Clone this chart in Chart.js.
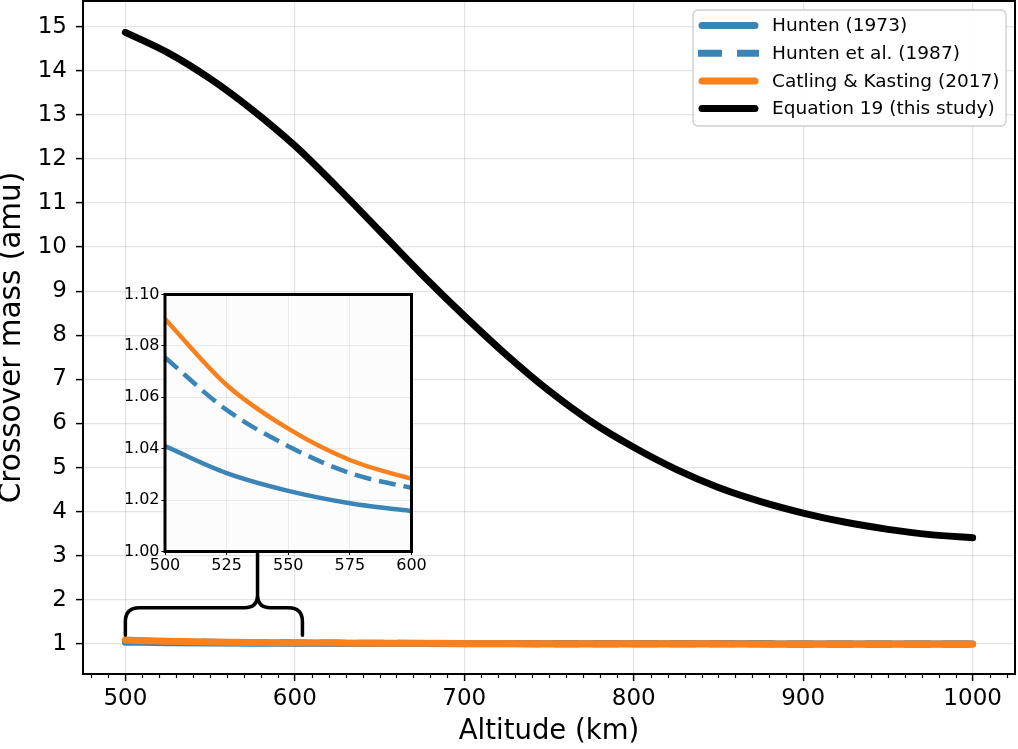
<!DOCTYPE html>
<html>
<head>
<meta charset="utf-8">
<script src="https://cdn.jsdelivr.net/npm/chart.js@4.4.1/dist/chart.umd.min.js"></script>
<style>
html, body { margin: 0; padding: 0; background: #ffffff; }
#wrap { position: relative; width: 1018px; height: 749px; overflow: hidden; }
#main { position: absolute; left: 0; top: 0; }
#inset { position: absolute; left: 110px; top: 285px; }
</style>
</head>
<body>
<div id="wrap">
  <canvas id="main" width="1018" height="749"></canvas>
  <canvas id="inset" width="335" height="295"></canvas>
</div>
<script>
// ---------------- DATA ----------------
const altitude = [500, 525, 550, 575, 600, 625, 650, 675, 700, 725, 750, 775, 800, 825, 850, 875, 900, 925, 950, 975, 1000];

const hunten1973 = [1.0410, 1.0305, 1.0236, 1.0188, 1.0158, 1.0133, 1.0113, 1.0097, 1.0083, 1.0072, 1.0062, 1.0054, 1.0047, 1.0041, 1.0036, 1.0032, 1.0028, 1.0025, 1.0022, 1.0020, 1.0018];
const hunten1987 = [1.0755, 1.0551, 1.0410, 1.0305, 1.0248, 1.0203, 1.0167, 1.0138, 1.0114, 1.0095, 1.0079, 1.0066, 1.0055, 1.0046, 1.0039, 1.0033, 1.0028, 1.0024, 1.0020, 1.0017, 1.0015];
const catlingKasting2017 = [1.0905, 1.0648, 1.0478, 1.0356, 1.0283, 1.0226, 1.0180, 1.0145, 1.0117, 1.0095, 1.0077, 1.0063, 1.0052, 1.0043, 1.0036, 1.0030, 1.0025, 1.0021, 1.0018, 1.0015, 1.0013];
const equation19 = [14.87, 14.41, 13.82, 13.11, 12.30, 11.36, 10.37, 9.38, 8.44, 7.55, 6.74, 6.04, 5.46, 4.96, 4.55, 4.23, 3.97, 3.76, 3.60, 3.48, 3.41];

const seriesLabels = ['Hunten (1973)', 'Hunten et al. (1987)', 'Catling & Kasting (2017)', 'Equation 19 (this study)'];

const xTickValues = [500, 600, 700, 800, 900, 1000];
const yTickValues = [1, 2, 3, 4, 5, 6, 7, 8, 9, 10, 11, 12, 13, 14, 15];
const insetXTickValues = [500, 525, 550, 575, 600];
const insetYTickValues = [1.00, 1.02, 1.04, 1.06, 1.08, 1.10];

const xAxisTitle = 'Altitude (km)';
const yAxisTitle = 'Crossover mass (amu)';

// ---------------- STYLE ----------------
const BLUE = '#3a84b6';
const ORANGE = '#f8811d';
const BLACK = '#000000';
const FONT = 'DejaVu Sans';

function pts(values) { return altitude.map((a, i) => ({ x: a, y: values[i] })); }
function noPad(s) { s.paddingLeft = 0; s.paddingRight = 0; s.paddingTop = 0; s.paddingBottom = 0; }

// ---------------- PLUGINS ----------------
const frameMain = {
  id: 'frameMain',
  afterDraw(chart) {
    const { ctx, chartArea: a, scales } = chart;
    ctx.save();
    // minor ticks on x axis (every 10 km)
    const xs = scales.x;
    ctx.strokeStyle = '#000';
    ctx.lineWidth = 1.2;
    for (let v = Math.ceil(xs.min / 10) * 10; v <= xs.max; v += 10) {
      if (v % 100 === 0) continue;
      const px = Math.round(xs.getPixelForValue(v)) + 0.5;
      ctx.beginPath();
      ctx.moveTo(px, a.bottom);
      ctx.lineTo(px, a.bottom + 4);
      ctx.stroke();
    }
    // spines
    ctx.lineWidth = 2;
    ctx.strokeRect(a.left, a.top, a.right - a.left, a.bottom - a.top);
    // legend
    const ds = chart.data.datasets;
    const bx = a.right - 322, by = a.top + 9, bw = 313, bh = 116;
    ctx.beginPath();
    if (ctx.roundRect) ctx.roundRect(bx, by, bw, bh, 5); else ctx.rect(bx, by, bw, bh);
    ctx.fillStyle = 'rgba(255,255,255,0.92)';
    ctx.fill();
    ctx.strokeStyle = '#cfcfcf';
    ctx.lineWidth = 1.4;
    ctx.stroke();
    ctx.font = '18.5px "' + FONT + '"';
    ctx.textBaseline = 'middle';
    ctx.textAlign = 'left';
    for (let i = 0; i < ds.length; i++) {
      const cy = by + 15.5 + i * 27.7;
      ctx.strokeStyle = ds[i].borderColor;
      ctx.lineWidth = 7;
      if (ds[i].borderDash && ds[i].borderDash.length) {
        ctx.setLineDash(ds[i].borderDash);
        ctx.lineCap = 'butt';
        ctx.beginPath();
        ctx.moveTo(bx + 5, cy);
        ctx.lineTo(bx + 66, cy);
        ctx.stroke();
        ctx.setLineDash([]);
      } else {
        ctx.lineCap = 'round';
        ctx.beginPath();
        ctx.moveTo(bx + 9, cy);
        ctx.lineTo(bx + 62, cy);
        ctx.stroke();
      }
      ctx.fillStyle = '#000';
      ctx.fillText(ds[i].label, bx + 79, cy + 1);
    }
    ctx.restore();
  }
};

// bracket linking the zoomed region (data coordinates)
const BRACE = { xLeft: 500, xCusp: 578, xRight: 604.5, yEnds: 1.2, yBar: 1.82, yTop: 3.08 };
const bracePlugin = {
  id: 'brace',
  afterDatasetsDraw(chart) {
    const { ctx, scales: { x: xs, y: ys } } = chart;
    const xl = xs.getPixelForValue(BRACE.xLeft), xc = xs.getPixelForValue(BRACE.xCusp), xr = xs.getPixelForValue(BRACE.xRight);
    const yE = ys.getPixelForValue(BRACE.yEnds), yB = ys.getPixelForValue(BRACE.yBar), yT = ys.getPixelForValue(BRACE.yTop);
    const r = 14, rc = 13;
    ctx.save();
    ctx.strokeStyle = '#000';
    ctx.lineWidth = 3.5;
    ctx.lineCap = 'round';
    ctx.lineJoin = 'round';
    ctx.beginPath();
    ctx.moveTo(xl, yE);
    ctx.lineTo(xl, yB + r);
    ctx.quadraticCurveTo(xl, yB, xl + r, yB);
    ctx.lineTo(xc - rc, yB);
    ctx.quadraticCurveTo(xc, yB, xc, yB - rc);
    ctx.lineTo(xc, yT);
    ctx.moveTo(xc, yB - rc);
    ctx.quadraticCurveTo(xc, yB, xc + rc, yB);
    ctx.lineTo(xr - r, yB);
    ctx.quadraticCurveTo(xr, yB, xr, yB + r);
    ctx.lineTo(xr, yE);
    ctx.stroke();
    ctx.restore();
  }
};

// ---------------- MAIN CHART ----------------
new Chart(document.getElementById('main'), {
  type: 'line',
  data: {
    datasets: [
      { label: seriesLabels[0], data: pts(hunten1973), borderColor: BLUE, borderWidth: 7, order: 4 },
      { label: seriesLabels[1], data: pts(hunten1987), borderColor: BLUE, borderWidth: 7, borderDash: [24, 15], order: 3 },
      { label: seriesLabels[2], data: pts(catlingKasting2017), borderColor: ORANGE, borderWidth: 7, order: 2 },
      { label: seriesLabels[3], data: pts(equation19), borderColor: BLACK, borderWidth: 7, order: 1 }
    ]
  },
  options: {
    responsive: false,
    animation: false,
    devicePixelRatio: 1,
    layout: { padding: { top: 1, right: 3, left: 0, bottom: 0 } },
    plugins: { legend: { display: false }, tooltip: { enabled: false } },
    elements: {
      point: { radius: 0 },
      line: { cubicInterpolationMode: 'monotone', borderCapStyle: 'round', borderJoinStyle: 'round', fill: false }
    },
    scales: {
      x: {
        type: 'linear', min: 475, max: 1025,
        afterBuildTicks: s => { s.ticks = xTickValues.map(v => ({ value: v })); },
        afterFit: s => { s.height = 75; noPad(s); },
        ticks: { color: '#000', font: { family: FONT, size: 23 }, padding: 4, maxRotation: 0, autoSkip: false, callback: v => String(v) },
        grid: { color: 'rgba(0,0,0,0.11)', lineWidth: 1.2, tickColor: '#000', tickLength: 7, tickWidth: 1.5 },
        border: { display: false },
        title: { display: true, text: xAxisTitle, color: '#000', font: { family: FONT, size: 27.5, lineHeight: 1.28 }, padding: 0 }
      },
      y: {
        type: 'linear', min: 0.32, max: 15.58,
        afterBuildTicks: s => { s.ticks = yTickValues.map(v => ({ value: v })); },
        afterFit: s => { s.width = 83; noPad(s); },
        ticks: { color: '#000', font: { family: FONT, size: 23 }, padding: 9, autoSkip: false, callback: v => String(v) },
        grid: { color: 'rgba(0,0,0,0.11)', lineWidth: 1.2, tickColor: '#000', tickLength: 7, tickWidth: 1.5 },
        border: { display: false },
        title: { display: true, text: yAxisTitle, color: '#000', font: { family: FONT, size: 29.5, lineHeight: 0.86 }, padding: 0 }
      }
    }
  },
  plugins: [bracePlugin, frameMain]
});

// ---------------- INSET CHART ----------------
const insetFrame = {
  id: 'insetFrame',
  beforeDraw(chart) {
    const { ctx, chartArea: a } = chart;
    ctx.save();
    ctx.fillStyle = '#fcfcfc';
    ctx.fillRect(a.left, a.top, a.right - a.left, a.bottom - a.top);
    ctx.restore();
  },
  afterDraw(chart) {
    const { ctx, chartArea: a } = chart;
    ctx.save();
    ctx.strokeStyle = '#000';
    ctx.lineWidth = 3;
    ctx.strokeRect(a.left, a.top, a.right - a.left, a.bottom - a.top);
    ctx.restore();
  }
};

new Chart(document.getElementById('inset'), {
  type: 'line',
  data: {
    datasets: [
      { label: seriesLabels[0], data: pts(hunten1973), borderColor: BLUE, borderWidth: 4.5, order: 3 },
      { label: seriesLabels[1], data: pts(hunten1987), borderColor: BLUE, borderWidth: 4.5, borderDash: [17, 8], order: 2 },
      { label: seriesLabels[2], data: pts(catlingKasting2017), borderColor: ORANGE, borderWidth: 4.5, order: 1 }
    ]
  },
  options: {
    responsive: false,
    animation: false,
    devicePixelRatio: 1,
    layout: { padding: { top: 9.5, right: 33.5, left: 0, bottom: 0 } },
    plugins: { legend: { display: false }, tooltip: { enabled: false } },
    elements: {
      point: { radius: 0 },
      line: { cubicInterpolationMode: 'monotone', borderCapStyle: 'butt', borderJoinStyle: 'round', fill: false }
    },
    datasets: { line: { clip: 0 } },
    scales: {
      x: {
        type: 'linear', min: 500, max: 600,
        afterBuildTicks: s => { s.ticks = insetXTickValues.map(v => ({ value: v })); },
        afterFit: s => { s.height = 28.5; noPad(s); },
        ticks: { color: '#000', font: { family: FONT, size: 16 }, padding: 1, maxRotation: 0, autoSkip: false, callback: v => String(v) },
        grid: { color: 'rgba(0,0,0,0.07)', lineWidth: 1, tickColor: '#000', tickLength: 3.5, tickWidth: 1 },
        border: { display: false }
      },
      y: {
        type: 'linear', min: 1.0, max: 1.1,
        afterBuildTicks: s => { s.ticks = insetYTickValues.map(v => ({ value: v })); },
        afterFit: s => { s.width = 55; noPad(s); },
        ticks: { color: '#000', font: { family: FONT, size: 16 }, padding: 2, autoSkip: false, callback: v => Number(v).toFixed(2) },
        grid: { color: 'rgba(0,0,0,0.07)', lineWidth: 1, tickColor: '#000', tickLength: 3.5, tickWidth: 1 },
        border: { display: false }
      }
    }
  },
  plugins: [insetFrame]
});
</script>
</body>
</html>
